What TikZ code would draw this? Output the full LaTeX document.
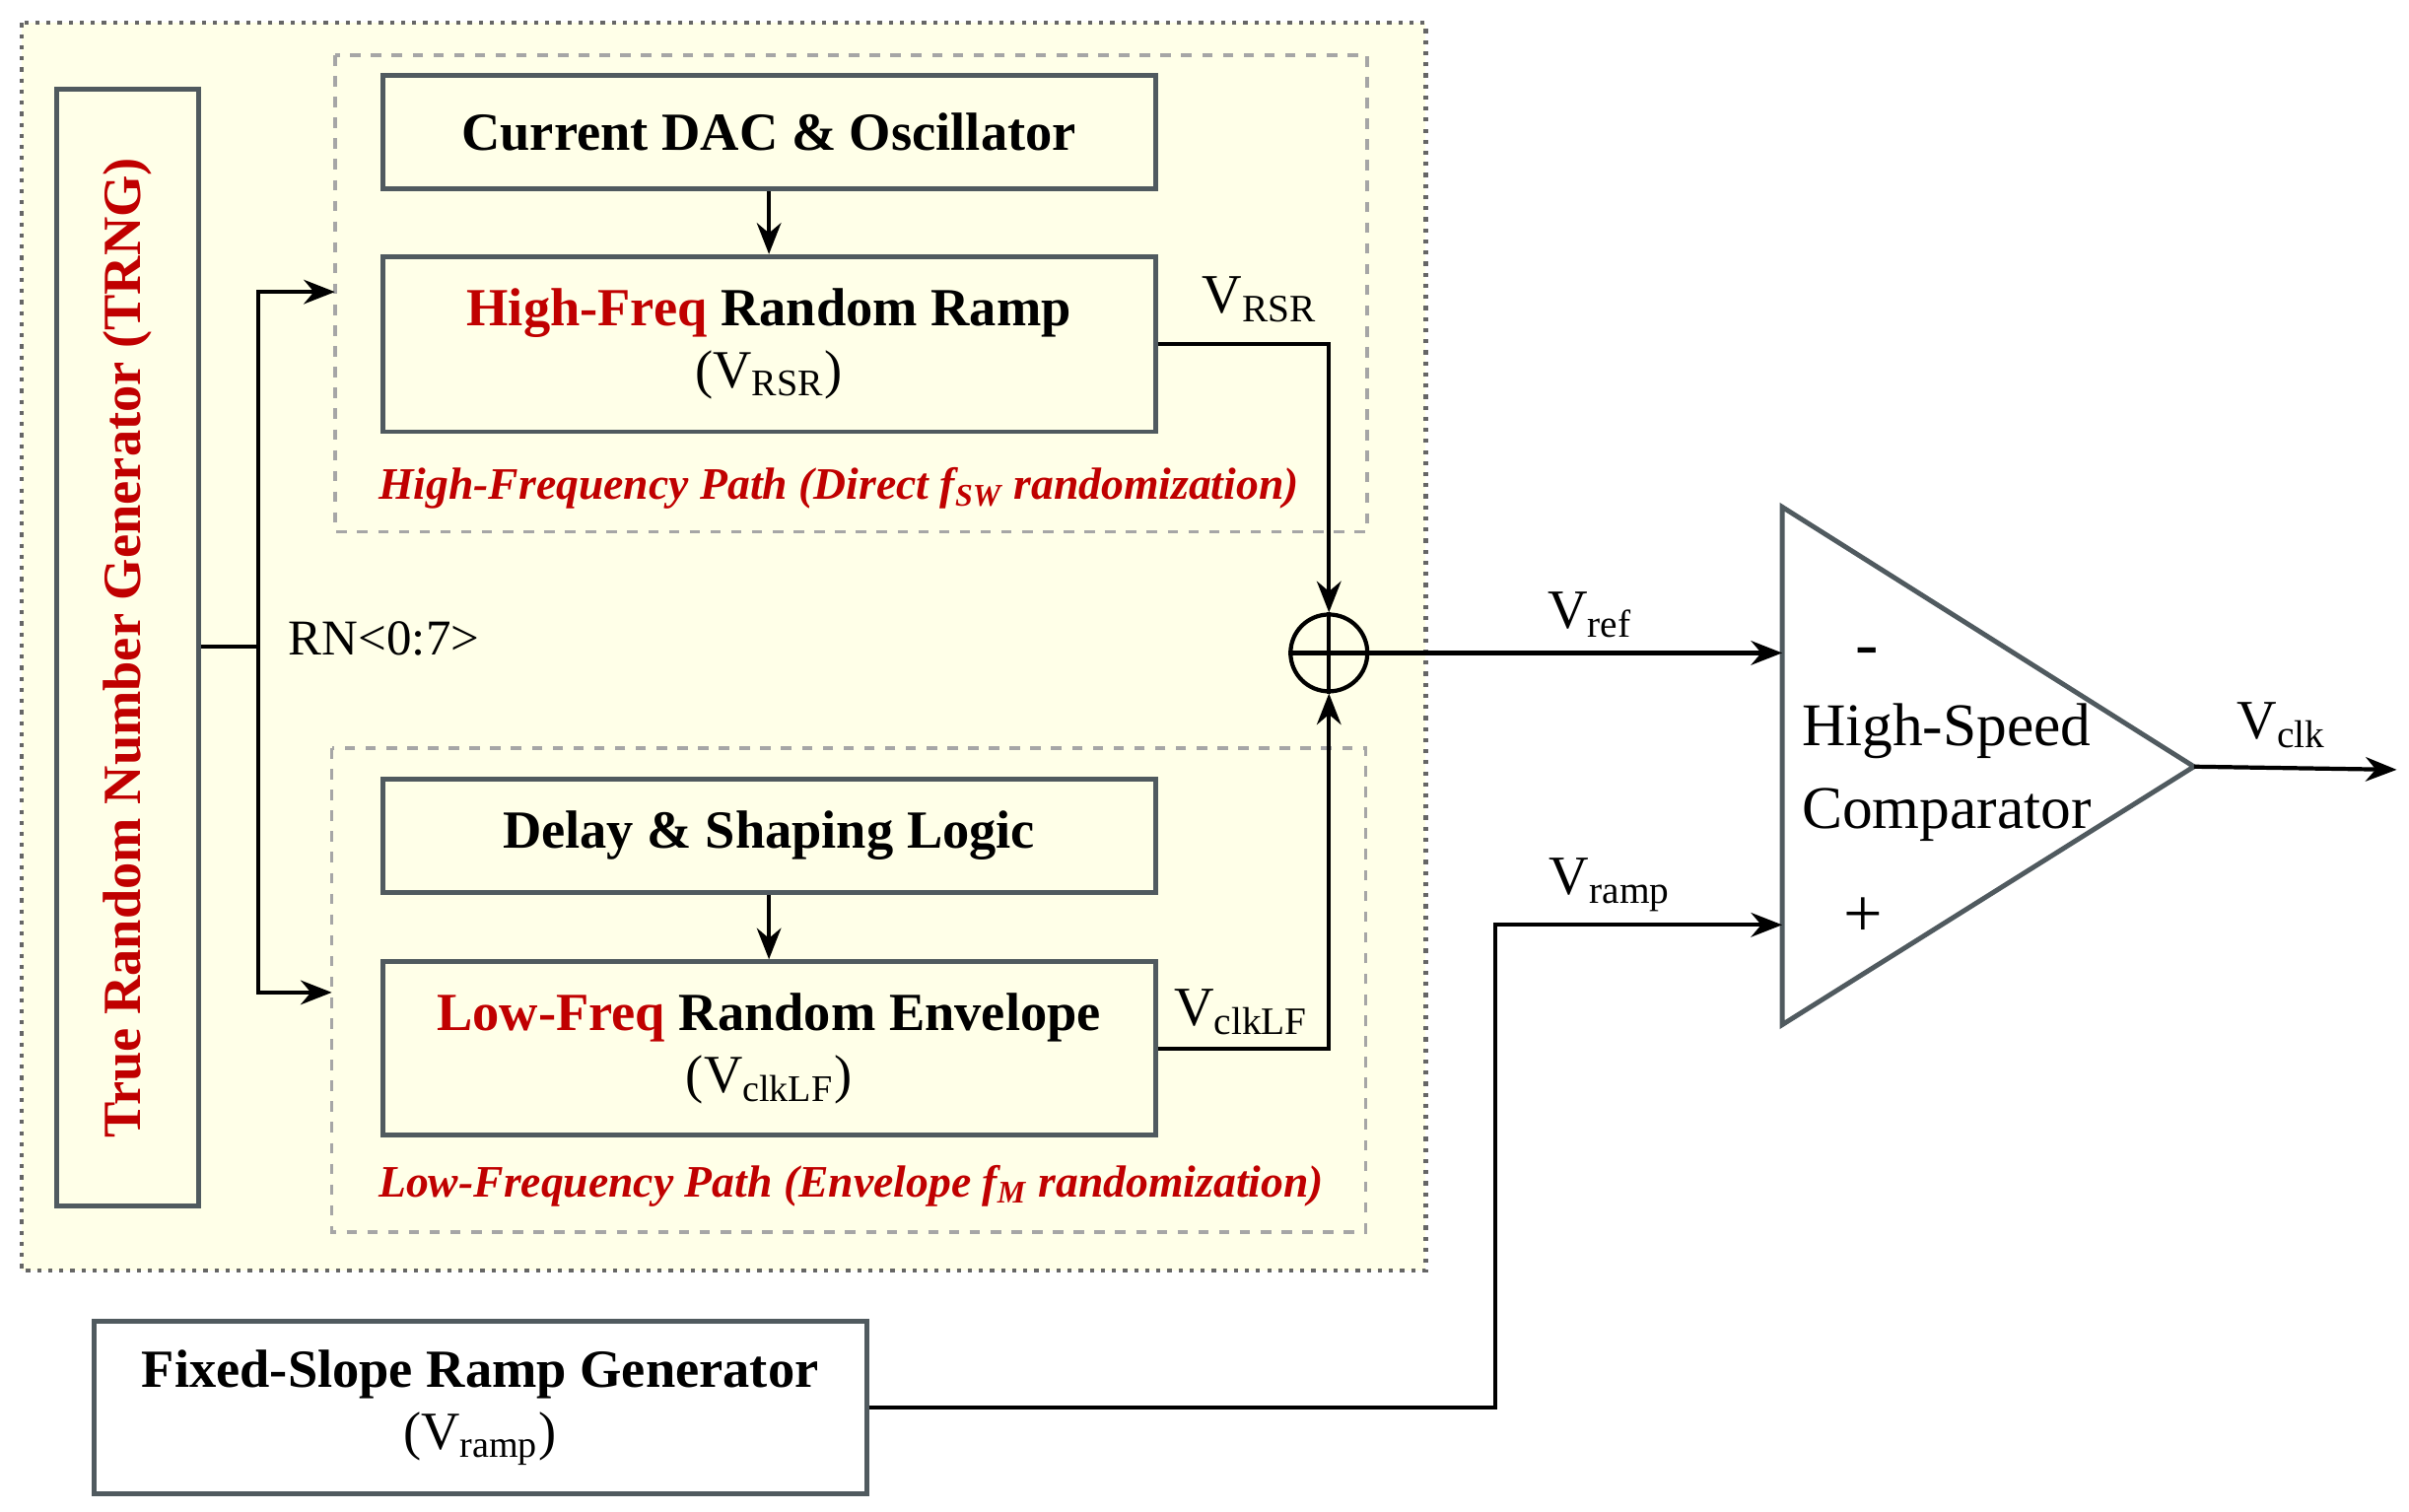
\documentclass[tikz,border=0pt]{standalone}
\usepackage{fontspec}
\setmainfont{Liberation Serif}
\usetikzlibrary{arrows.meta,positioning}
\definecolor{pathred}{RGB}{192,0,0}
\definecolor{boxgray}{RGB}{80,90,95}
\definecolor{bgyellow}{RGB}{255,255,232}
\newcommand{\pu}{0.01559cm}
\tikzset{
  blk/.style={draw=boxgray, line width=1.4pt, align=center, inner sep=0pt,
    font=\fontsize{15.5}{19}\selectfont\bfseries},
  path box/.style={draw=gray!70, dashed, line width=1pt},
  path lbl/.style={text=pathred, font=\fontsize{13}{15}\selectfont\bfseries\itshape},
  sig/.style={font=\fontsize{16}{19}\selectfont},
  wire/.style={line width=1.2pt},
  arr/.style={wire, -{Stealth[length=9pt,width=7pt]}},
}
\begin{document}
\begin{tikzpicture}[x=\pu, y=-\pu]
  \useasboundingbox (0,0) rectangle (1568,984);
  % background of the randomization block
  \draw[fill=bgyellow, draw=gray!80!black, dotted, line width=1.2pt] (14,15) rectangle (928,827);
  \draw[path box] (218,36) rectangle (890,346);
  \draw[path box] (216,487) rectangle (889,802);
  % blocks
  \node[blk, minimum width=92*\pu, minimum height=727*\pu] (trng) at (83,421.5)
    {\rotatebox{90}{\textcolor{pathred}{True Random Number Generator (TRNG)}}};
  \node[blk, minimum width=503*\pu, minimum height=74*\pu] (dac) at (500.5,86) {Current DAC \& Oscillator};
  \node[blk, minimum width=503*\pu, minimum height=114*\pu] (hf) at (500.5,224)
    {\textcolor{pathred}{High-Freq} Random Ramp\\[-1pt]\mdseries(V\textsubscript{RSR})};
  \node[blk, minimum width=503*\pu, minimum height=74*\pu] (dly) at (500.5,544) {Delay \& Shaping Logic};
  \node[blk, minimum width=503*\pu, minimum height=113*\pu] (lf) at (500.5,682.5)
    {\textcolor{pathred}{Low-Freq} Random Envelope\\[-1pt]\mdseries(V\textsubscript{clkLF})};
  \node[blk, minimum width=503*\pu, minimum height=112*\pu] (ramp) at (312.5,916)
    {Fixed-Slope Ramp Generator\\[-1pt]\mdseries(V\textsubscript{ramp})};
  \node[path lbl] at (546,318) {High-Frequency Path (Direct \textit{f}\textsubscript{SW} randomization)};
  \node[path lbl] at (554,772) {Low-Frequency Path (Envelope \textit{f}\textsubscript{M} randomization)};
  % summing junction
  \node[draw, wire, circle, minimum size=50*\pu, inner sep=0pt] (sum) at (865,425) {};
  \draw[wire] (sum.north) -- (sum.south) (sum.west) -- (sum.east);
  % comparator
  \coordinate (ct) at (1160,330);
  \coordinate (cb) at (1160,667);
  \coordinate (tip) at (1428,499);
  \draw[boxgray, line width=1.4pt] (ct) -- (tip) -- (cb) -- cycle;
  \node[sig, font=\fontsize{17.5}{24}\selectfont, align=center] (cmp) at (1267,503) {High-Speed\\Comparator};
  \node[sig, font=\fontsize{20}{22}\selectfont] (minus) at (1215,428) {-};
  \node[sig, font=\fontsize{20}{22}\selectfont] (plus) at (1213,597) {+};
  \coordinate (inm) at (1160,425);
  \coordinate (inp) at (1160,602);
  \coordinate (out) at (1560,501);
  % connections
  \coordinate (bus) at (168,421);
  \draw[wire] (trng.east |- bus) -- (bus);
  \draw[arr] (bus) |- (218,190);
  \draw[arr] (bus) |- (216,646);
  \node[sig, font=\fontsize{14.5}{17}\selectfont, anchor=west] (rn) at (180,416) {RN<0:7>};
  \draw[arr] (dac) -- (hf);
  \draw[arr] (dly) -- (lf);
  \draw[arr] (hf.east) -| (sum.north);
  \draw[arr] (lf.east) -| (sum.south);
  \node[sig] (vrsr) at (820,195) {V\textsubscript{RSR}};
  \node[sig] (vlf) at (808,659) {V\textsubscript{clkLF}};
  \draw[arr] (sum.east) -- (inm);
  \node[sig] (vref) at (1035,400) {V\textsubscript{ref}};
  \draw[arr] (ramp.east) -| (973,602) -- (inp);
  \node[sig] (vramp) at (1048,576) {V\textsubscript{ramp}};
  \draw[arr] (tip) -- (out);
  \node[sig] (vclk) at (1485,472) {V\textsubscript{clk}};
\end{tikzpicture}
\end{document}
